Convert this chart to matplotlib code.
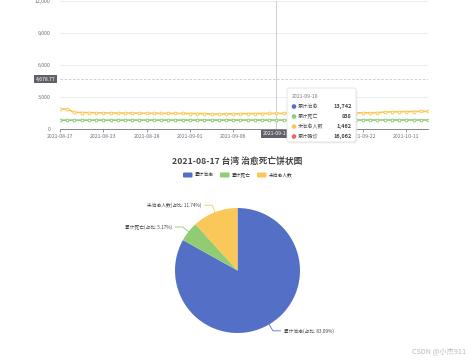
import matplotlib

matplotlib.use("Agg")
import matplotlib.pyplot as plt
import numpy as np
from matplotlib.patches import FancyBboxPatch, Circle

plt.rcParams["font.family"] = ["Noto Sans CJK SC", "DejaVu Sans"]

W, H = 474, 360

C = {
    "blue": "#5470c6",
    "green": "#91cc75",
    "yellow": "#fac858",
    "red": "#ee6666",
    "axis": "#6e7079",
    "grid": "#e6e9f0",
    "text": "#464646",
}

dates = [
    "2021-08-17", "2021-08-18", "2021-08-19", "2021-08-20", "2021-08-21", "2021-08-22",
    "2021-08-23", "2021-08-24", "2021-08-25", "2021-08-26", "2021-08-26", "2021-08-27",
    "2021-08-28", "2021-08-29", "2021-08-30", "2021-08-30", "2021-08-31", "2021-08-31",
    "2021-09-01", "2021-09-02", "2021-09-03", "2021-09-04", "2021-09-05", "2021-09-05",
    "2021-09-06", "2021-09-07", "2021-09-08", "2021-09-08", "2021-09-09", "2021-09-09",
    "2021-09-10", "2021-09-11", "2021-09-12", "2021-09-13", "2021-09-14", "2021-09-15",
    "2021-09-16", "2021-09-17", "2021-09-18", "2021-09-19", "2021-09-20", "2021-09-21",
    "2021-09-22", "2021-09-24", "2021-09-27", "2021-09-30", "2021-10-03", "2021-10-07",
    "2021-10-11", "2021-10-13", "2021-10-15", "2021-10-17",
]

uncured = [
    1876, 1860, 1560, 1540, 1530, 1520, 1510, 1505, 1500, 1495, 1490, 1480,
    1475, 1470, 1470, 1465, 1460, 1455, 1450, 1445, 1440, 1400, 1395, 1410,
    1420, 1430, 1440, 1445, 1450, 1455, 1462, 1465, 1470, 1475, 1480, 1485,
    1490, 1495, 1500, 1505, 1510, 1515, 1520, 1520, 1525, 1590, 1610, 1620,
    1630, 1640, 1650, 1655,
]

deaths = [
    826, 827, 828, 829, 830, 831, 832, 832, 833, 833, 834, 834,
    835, 835, 835, 836, 836, 836, 836, 837, 837, 837, 837, 837,
    837, 838, 838, 838, 838, 838, 838, 838, 839, 839, 839, 839,
    839, 840, 840, 840, 840, 841, 841, 842, 842, 843, 843, 844,
    844, 845, 845, 845,
]

tip_date = "2021-09-10"
tip_names = ["累计治愈", "累计死亡", "未治愈人数", "累计确诊"]
tip_values = [13742, 838, 1462, 16062]
tip_colors = [C["blue"], C["green"], C["yellow"], C["red"]]
pointer_value = 4678.77

pie_title = "2021-08-17 台湾 治愈死亡饼状图"
pie_names = ["累计治愈", "累计死亡", "未治愈人数"]
pie_values = [13275, 826, 1876]
pie_colors = [C["blue"], C["green"], C["yellow"]]


def fig_rect(x0, y0, x1, y1):
    return [x0 / W, 1 - y1 / H, (x1 - x0) / W, (y1 - y0) / H]


fig = plt.figure(figsize=(W / 100, H / 100), dpi=100)
fig.patch.set_facecolor("white")

# --- line chart ---
ax = fig.add_axes(fig_rect(60, 1, 428, 129))
x = np.arange(len(dates))
for series, col in [(uncured, C["yellow"]), (deaths, C["green"])]:
    ax.plot(x, series, color=col, lw=1.2, marker="o", ms=2.0, mfc="white",
            mec=col, mew=0.7, zorder=3)
ax.set_xlim(0, len(dates) - 1)
ax.set_ylim(0, 12000)
yt = [0, 3000, 6000, 9000, 12000]
ax.set_yticks(yt)
ax.set_yticklabels([f"{v:,}" for v in yt])

i_tip = dates.index(tip_date)
shown = x[::6]
ax.set_xticks(shown)
# labels under the pointer badge / tooltip are covered in the original
ax.set_xticklabels([dates[i] if i < i_tip else ("" if i <= i_tip + 6 else dates[i]) for i in shown])
ax.grid(axis="y", color=C["grid"], lw=0.6)
ax.set_axisbelow(True)
for s in ["top", "right", "left"]:
    ax.spines[s].set_visible(False)
ax.spines["bottom"].set_color(C["axis"])
ax.spines["bottom"].set_linewidth(0.6)
ax.tick_params(axis="y", length=0, labelsize=3.7, labelcolor=C["axis"], pad=7)
ax.tick_params(axis="x", length=2, width=0.5, color=C["axis"], labelsize=3.7,
               labelcolor=C["axis"], pad=1.5)

# axis pointer (cross)
ax.axvline(i_tip, color="#c8c8c8", lw=0.6, zorder=2)
ax.axhline(pointer_value, color="#c8c8c8", lw=0.6, ls=(0, (3, 2)), zorder=2)
ax.text(-0.012, pointer_value, f"{pointer_value:,.2f}", transform=ax.get_yaxis_transform(),
        ha="right", va="center", fontsize=3.7, color="white",
        bbox=dict(boxstyle="square,pad=0.35", fc="#5f6068", ec="none"), zorder=6, clip_on=False)
ax.text(i_tip - 0.25, -0.018, tip_date[:-1], transform=ax.get_xaxis_transform(), ha="center",
        va="top", fontsize=3.7, color="white",
        bbox=dict(boxstyle="square,pad=0.35", fc="#5f6068", ec="none"), zorder=6, clip_on=False)

# --- overlay for tooltip / watermark ---
ov = fig.add_axes([0, 0, 1, 1], zorder=10)
ov.set_xlim(0, W)
ov.set_ylim(H, 0)
ov.axis("off")
ov.patch.set_alpha(0)

ov.add_patch(FancyBboxPatch((288.5, 89.5), 69, 54, boxstyle="round,pad=0,rounding_size=2.5",
                            fc="#e8e8e8", ec="none", alpha=0.6))
ov.add_patch(FancyBboxPatch((287, 88), 69, 54, boxstyle="round,pad=0,rounding_size=2.5",
                            fc="white", ec="#dcdcdc", lw=0.5))
ov.text(292, 96.5, tip_date, fontsize=3.7, color="#777777", va="center", ha="left")
for k, (name, val, col) in enumerate(zip(tip_names, tip_values, tip_colors)):
    yy = 106.5 + k * 10
    ov.add_patch(Circle((294, yy), 1.6, color=col))
    ov.text(298, yy, name, fontsize=3.7, color="#555555", va="center", ha="left")
    ov.text(352, yy, f"{val:,}", fontsize=4.0, color="#444444", va="center", ha="right",
            fontweight="bold")

ov.text(466, 351, "CSDN @小杰911", fontsize=5.2, color="#b8b8b8", ha="right", va="center")

# --- pie title & legend ---
ov.text(237.5, 161.5, pie_title, fontsize=6.3, fontweight="bold", color=C["text"],
        ha="center", va="center")
leg_x = [183, 220, 257]
for lx, name, col in zip(leg_x, pie_names, pie_colors):
    ov.add_patch(FancyBboxPatch((lx, 172.5), 9.5, 5, boxstyle="round,pad=0,rounding_size=1",
                                fc=col, ec="none"))
    ov.text(lx + 12, 175, name, fontsize=3.4, color="#333333", va="center", ha="left")

# --- pie ---
axp = fig.add_axes(fig_rect(175, 208, 300, 333))
axp.pie(pie_values, colors=pie_colors, startangle=90, counterclock=False, radius=1,
        wedgeprops=dict(lw=0))
axp.set_xlim(-1, 1)
axp.set_ylim(-1, 1)
axp.set_aspect("equal")
axp.axis("off")

vals = np.array(pie_values, dtype=float)
frac = vals / vals.sum()
mids = np.cumsum(frac) - frac / 2
for name, f, m, col in zip(pie_names, frac, mids, pie_colors):
    theta = np.deg2rad(90 - 360 * m)
    cx, cy = np.cos(theta), np.sin(theta)
    side = 1 if cx >= 0 else -1
    ex, ey = 1.12 * cx, 1.12 * cy
    hx = ex + side * 0.12
    axp.plot([cx, ex, hx], [cy, ey, ey], color=col, lw=0.6, clip_on=False)
    axp.text(hx + side * 0.05, ey, f"{name}(占比: {f * 100:.2f}%)", fontsize=3.4,
             color="#444444", ha="left" if side > 0 else "right", va="center", clip_on=False)

fig.savefig("out.png", dpi=100)
